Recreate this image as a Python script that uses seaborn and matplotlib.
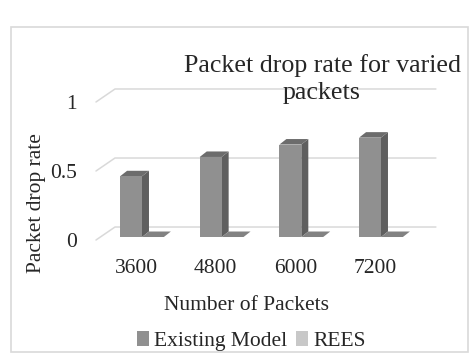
import pandas as pd
import seaborn as sns
import matplotlib.pyplot as plt
from matplotlib.patches import Polygon, Rectangle
from matplotlib.transforms import ScaledTranslation

packets = ['3600', '4800', '6000', '7200']
existing_model = [0.44, 0.58, 0.67, 0.72]
rees = [0.0, 0.0, 0.0, 0.0]
series_names = ['Existing Model', 'REES']
yticks = [0, 0.5, 1]

front_colors = {'Existing Model': '#909090', 'REES': '#c8c8c8'}
side_colors = {'Existing Model': '#5f5f5f', 'REES': '#6a6a6a'}
top_colors = {'Existing Model': '#6c6c6c', 'REES': '#828282'}
grid_color = '#d9d9d9'


def build_frame():
    rows = []
    for name, vals in zip(series_names, [existing_model, rees]):
        for p, v in zip(packets, vals):
            rows.append({'Packets': p, 'Model': name, 'Rate': v})
    return pd.DataFrame(rows)


def main():
    sns.set_style('white')
    plt.rcParams['font.family'] = ['Liberation Serif', 'DejaVu Serif']

    fig = plt.figure(figsize=(4.74, 3.57), dpi=100)
    ax = fig.add_axes([0.2025, 0.3277, 0.677, 0.3866])
    df = build_frame()

    sns.barplot(data=df, x='Packets', y='Rate', hue='Model', hue_order=series_names,
                palette=front_colors, width=0.55, linewidth=0, ax=ax, legend=False)

    ax.set_xlim(-0.502, 3.526)
    ax.set_ylim(0, 1)

    # pixel -> data conversion for the fake 3D depth
    pos = ax.get_position()
    ppx = pos.width * 474 / (3.526 + 0.502)
    ppy = pos.height * 357 / 1.0

    # back-wall gridlines with left diagonal
    bx, by = 19 / ppx, 13 / ppy
    x0, x1 = ax.get_xlim()
    for y in yticks:
        ax.plot([x0, x0 + bx, x1 + bx], [y, y + by, y + by], color=grid_color,
                lw=1.1, clip_on=False, zorder=0)

    # 3D bars: push fronts into the depth and add side / top faces
    shift = ScaledTranslation(0.06, 0.03, fig.dpi_scale_trans)
    dx, dy = 7 / ppx, 5.5 / ppy
    bars = list(ax.patches)
    for i, p in enumerate(bars):
        name = series_names[i // len(packets)]
        tr = ax.transData + shift
        p.set_transform(tr)
        p.set_clip_on(False)
        p.set_zorder(3)
        xa, w, h = p.get_x(), p.get_width(), p.get_height()
        xb = xa + w
        side = Polygon([(xb, 0), (xb + dx, dy), (xb + dx, h + dy), (xb, h)],
                       closed=True, facecolor=side_colors[name], lw=0,
                       transform=tr, clip_on=False, zorder=2)
        top = Polygon([(xa, h), (xb, h), (xb + dx, h + dy), (xa + dx, h + dy)],
                      closed=True, facecolor=top_colors[name], lw=0,
                      transform=tr, clip_on=False, zorder=2)
        ax.add_patch(side)
        ax.add_patch(top)

    ax.set_yticks(yticks)
    ax.set_yticklabels(['0', '0.5', '1'])
    ax.tick_params(axis='y', length=0, pad=14, labelsize=15.5)
    ax.tick_params(axis='x', length=0, pad=14, labelsize=15.5)
    for s in ax.spines.values():
        s.set_visible(False)
    ax.patch.set_alpha(0)

    ax.set_ylabel('Packet drop rate', fontsize=15.5)
    ax.yaxis.set_label_coords(-0.185, 0.268)
    ax.set_xlabel('Number of Packets', fontsize=15.5)
    ax.xaxis.set_label_coords(0.47, -0.478)
    ax.xaxis.label.set_va('center')
    ax.yaxis.label.set_va('center')

    fig.text(322 / 474, 0.778, 'Packet drop rate for varied\npackets', ha='center',
             va='center', fontsize=18.7, linespacing=1.3)

    handles = [Rectangle((0, 0), 1, 1, facecolor=front_colors[n], lw=0) for n in series_names]
    fig.legend(handles, series_names, loc='center', bbox_to_anchor=(0.53, 0.045), ncol=2,
               frameon=False, fontsize=15.5, handlelength=0.55, handleheight=0.7,
               handletextpad=0.25, columnspacing=0.4, borderpad=0)

    fig.patches.append(Rectangle((0.0232, 0.014), 0.964, 0.910, transform=fig.transFigure,
                                 fill=False, edgecolor=grid_color, lw=1.2))

    fig.savefig('out.png', dpi=100)
    plt.close(fig)


if __name__ == '__main__':
    main()
